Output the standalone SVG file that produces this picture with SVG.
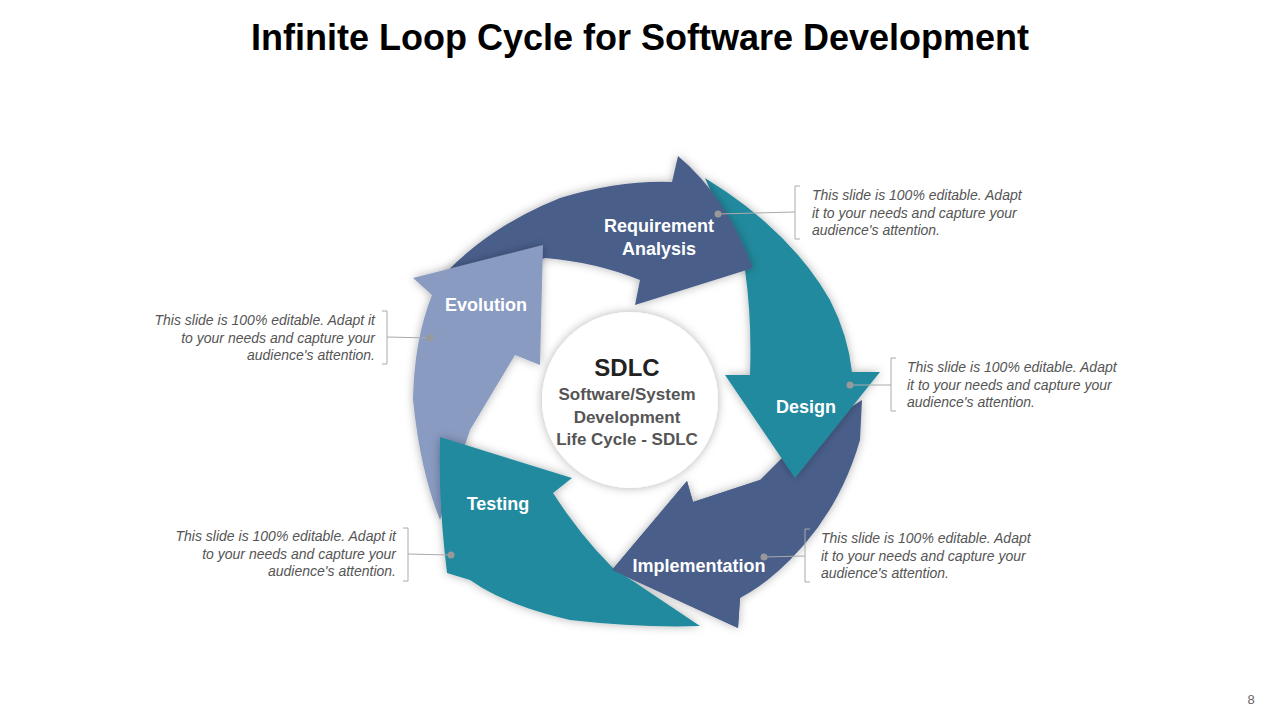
<svg xmlns="http://www.w3.org/2000/svg" width="1280" height="720" viewBox="0 0 1280 720">
<defs>
<filter id="sh" x="-20%" y="-20%" width="140%" height="140%"><feDropShadow dx="0" dy="0" stdDeviation="5" flood-color="#000" flood-opacity="0.3"/></filter>
</defs>
<style>
.t{font-family:"Liberation Sans",Arial,sans-serif}
.lab{font-family:"Liberation Sans",Arial,sans-serif;font-weight:bold;font-size:18px;fill:#fff;text-anchor:middle}
.c{font-family:"Liberation Sans",Arial,sans-serif;font-style:italic;font-size:14px;fill:#555}
.br{fill:none;stroke:#aaa;stroke-width:1}
.dot{fill:#999}
.dk{fill:#4a5e8a}.tl{fill:#238a9e}.lt{fill:#8a9bc2}
</style>
<rect width="1280" height="720" fill="#fff"/>
<text class="t" x="640" y="50" font-size="36" font-weight="bold" text-anchor="middle" fill="#000">Infinite Loop Cycle for Software Development</text>
<g id="implementation"><path class="dk" filter="url(#sh)" d="M612,570 L687,481 L693,502 L760,480 L800,440 L862,400 L860,440 Q840,510 790,560 Q765,585 740,598 L738,628 Z"/></g>
<g id="design"><path class="tl" filter="url(#sh)" d="M705,178 Q790,230 830,300 Q848,335 852,372 L880,372 L795,478 L725,375 L750,375 Q752,320 745,270 Z"/></g>
<g id="requirement"><path class="dk" filter="url(#sh)" d="M430,290 Q480,230 560,198 Q620,180 672,182 L678,156 Q725,195 753,268 L635,305 L640,280 Q595,262 545,258 L500,275 Z"/></g>
<g id="evolution"><path class="lt" filter="url(#sh)" d="M413,278 L543,245 L540,365 L515,355 L470,430 L440,520 Q420,470 413,400 Q414,340 432,295 Z"/></g>
<g id="testing"><path class="tl" filter="url(#sh)" d="M440,437 L572,478 L553,493 Q580,535 612,567 L700,626 Q640,628 570,620 Q505,605 470,580 L447,573 Q438,500 440,437 Z"/></g>
<g id="implementation-head"><path class="dk" d="M612,570 L687,481 L693,502 L760,480 L780,560 L740,598 L738,628 Z"/></g>
<g id="center"><circle cx="630" cy="400" r="88" fill="#fff" filter="url(#sh)"/>
<text class="t" x="627" y="376" font-size="24" font-weight="bold" text-anchor="middle" fill="#222">SDLC</text>
<text class="t" font-size="17" font-weight="bold" text-anchor="middle" fill="#555"><tspan x="627" y="400">Software/System</tspan><tspan x="627" y="423">Development</tspan><tspan x="627" y="445">Life Cycle - SDLC</tspan></text></g>
<text class="lab" x="659" y="232">Requirement</text><text class="lab" x="659" y="255">Analysis</text>
<text class="lab" x="486" y="311">Evolution</text>
<text class="lab" x="806" y="413">Design</text>
<text class="lab" x="498" y="510">Testing</text>
<text class="lab" x="699" y="572">Implementation</text>
<g id="connectors">
<path class="br" d="M718,214 L795,212 M800,186 L795,186 L795,239 L800,239"/><circle class="dot" cx="718" cy="214" r="3.5"/>
<path class="br" d="M850,385 L891,385 M896,358 L891,358 L891,411 L896,411"/><circle class="dot" cx="850" cy="385" r="3.5"/>
<path class="br" d="M764,557 L805,556 M810,529 L805,529 L805,582 L810,582"/><circle class="dot" cx="764" cy="557" r="3.5"/>
<path class="br" d="M430,338 L387,337 M382,311 L387,311 L387,364 L382,364"/><circle class="dot" cx="430" cy="338" r="3.5"/>
<path class="br" d="M451,555 L408,554 M403,528 L408,528 L408,581 L403,581"/><circle class="dot" cx="451" cy="555" r="3.5"/>
</g>
<text class="c"><tspan x="812" y="200">This slide is 100% editable.  Adapt</tspan><tspan x="812" y="218">it to your needs and capture your</tspan><tspan x="812" y="235">audience's attention.</tspan></text>
<text class="c"><tspan x="907" y="372">This slide is 100% editable.  Adapt</tspan><tspan x="907" y="390">it to your needs and capture your</tspan><tspan x="907" y="407">audience's attention.</tspan></text>
<text class="c"><tspan x="821" y="543">This slide is 100% editable.  Adapt</tspan><tspan x="821" y="561">it to your needs and capture your</tspan><tspan x="821" y="578">audience's attention.</tspan></text>
<text class="c" text-anchor="end"><tspan x="375" y="325">This slide is 100% editable.  Adapt it</tspan><tspan x="375" y="343">to your needs and capture your</tspan><tspan x="375" y="360">audience's attention.</tspan></text>
<text class="c" text-anchor="end"><tspan x="396" y="541">This slide is 100% editable.  Adapt it</tspan><tspan x="396" y="559">to your needs and capture your</tspan><tspan x="396" y="576">audience's attention.</tspan></text>
<text class="t" x="1251" y="704" font-size="13" fill="#666" text-anchor="middle">8</text>
</svg>
